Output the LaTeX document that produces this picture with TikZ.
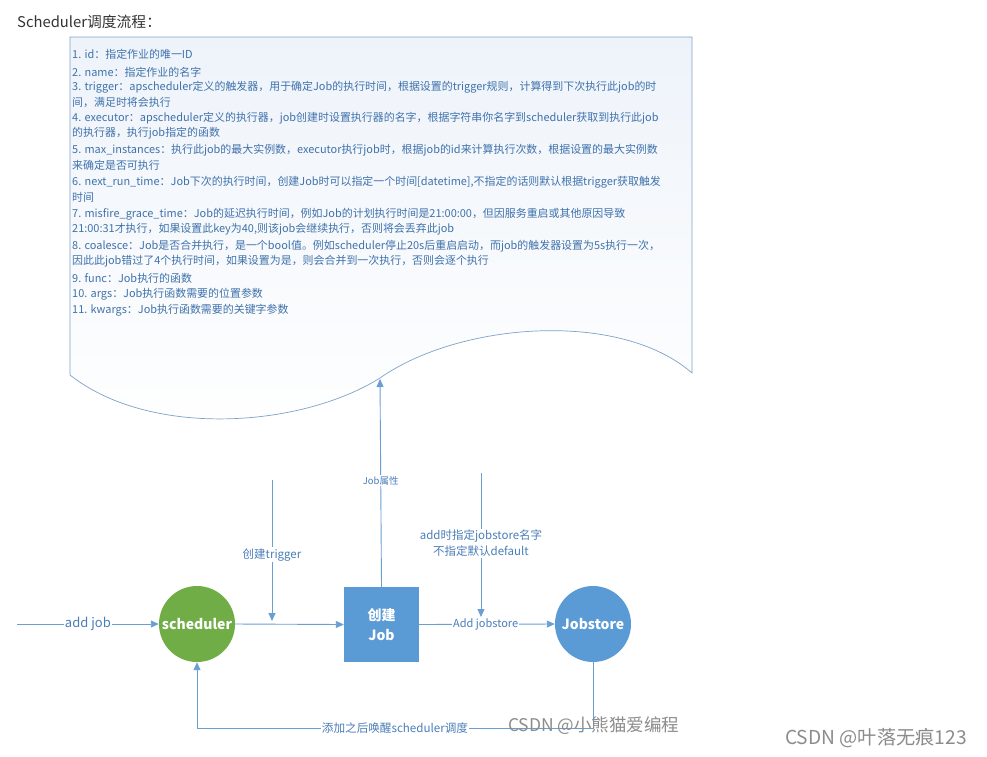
\documentclass[tikz,border=0pt]{standalone}
\usepackage{fontspec}
\setmainfont{Noto Sans CJK SC}
\usetikzlibrary{arrows.meta}
\definecolor{lineblue}{HTML}{6A9FD4}
\definecolor{labblue}{HTML}{4A7EB8}
\definecolor{doctext}{HTML}{3F72AB}
\definecolor{docborder}{HTML}{7FA2C8}
\definecolor{docfill}{HTML}{EEF3FA}
\definecolor{sgreen}{HTML}{70AD47}
\definecolor{sblue}{HTML}{5B9BD5}
\definecolor{wmgray}{HTML}{8C8C8C}
\tikzset{
  conn/.style={draw=lineblue, line width=0.9pt},
  arr/.style={conn, -{Triangle[length=8pt,width=7pt]}},
  lab/.style={fill=white, inner sep=1pt, text=labblue},
  doctxt/.style={anchor=west, inner sep=0pt, text=doctext, font=\fontsize{10.95}{12}\selectfont},
  circnode/.style={circle, minimum size=76pt, inner sep=0pt, text=white, font=\fontsize{14}{16}\selectfont\bfseries},
  boxnode/.style={rectangle, minimum width=75pt, minimum height=75pt, inner sep=0pt, fill=sblue, text=white, align=center, font=\fontsize{14}{20}\selectfont\bfseries}
}
\begin{document}
\begin{tikzpicture}[x=1pt,y=-1pt]
\useasboundingbox[fill=white] (0,0) rectangle (987,756);
% title
\node[anchor=west, inner sep=0pt, text=black!80, font=\fontsize{14.8}{16}\selectfont] (title) at (17,22) {Scheduler调度流程：};
% document shape
\path[draw=docborder, line width=0.7pt, top color=docfill, bottom color=white]
  (70,37) -- (692,37) -- (692,373)
  .. controls (620,310) and (460,322) .. (380,378)
  .. controls (300,428) and (150,438) .. (70,375) -- cycle;
\coordinate (docbot) at (380,379);
\foreach \y/\t in {
 54/{1. id：指定作业的唯一ID},
 72/{2. name：指定作业的名字},
 87/{3. trigger：apscheduler定义的触发器，用于确定Job的执行时间，根据设置的trigger规则，计算得到下次执行此job的时},
 102/{间，满足时将会执行},
 118/{4. executor：apscheduler定义的执行器，job创建时设置执行器的名字，根据字符串你名字到scheduler获取到执行此job},
 133/{的执行器，执行job指定的函数},
 150/{5. max\_instances：执行此job的最大实例数，executor执行job时，根据job的id来计算执行次数，根据设置的最大实例数},
 165/{来确定是否可执行},
 182/{6. next\_run\_time：Job下次的执行时间，创建Job时可以指定一个时间[datetime],不指定的话则默认根据trigger获取触发},
 197/{时间},
 214/{7. misfire\_grace\_time：Job的延迟执行时间，例如Job的计划执行时间是21:00:00，但因服务重启或其他原因导致},
 229/{21:00:31才执行，如果设置此key为40,则该job会继续执行，否则将会丢弃此job},
 246/{8. coalesce：Job是否合并执行，是一个bool值。例如scheduler停止20s后重启启动，而job的触发器设置为5s执行一次，},
 261/{因此此job错过了4个执行时间，如果设置为是，则会合并到一次执行，否则会逐个执行},
 278/{9. func：Job执行的函数},
 294/{10. args：Job执行函数需要的位置参数},
 310/{11. kwargs：Job执行函数需要的关键字参数}}
 {\node[doctxt] at (72,\y) {\t};}
% nodes
\node[circnode, fill=sgreen] (sched) at (197,624) {scheduler};
\node[boxnode] (job) at (381.5,624.5) {创建\\Job};
\node[circnode, fill=sblue] (store) at (593,624) {Jobstore};
\coordinate (start) at (17,624);
\coordinate (trigtop) at (272,480);
\coordinate (trigend) at (272,621);
\coordinate (jstop) at (481,473);
\coordinate (jsend) at (481,617);
\coordinate (retR) at (593,728);
\coordinate (retL) at (197,728);
% connectors
\draw[arr] (start) -- node[lab, font=\fontsize{13}{15}\selectfont] {add job} (sched.west);
\draw[arr] (sched.east) -- (job.west);
\draw[arr] (trigtop) -- node[lab, pos=0.53, font=\fontsize{11.5}{14}\selectfont] {创建trigger} (trigend);
\draw[arr] (job.north) -- node[lab, pos=0.51, font=\fontsize{9.5}{11}\selectfont] {Job属性} (docbot);
\draw[arr] (job.east) -- node[lab, pos=0.49, font=\fontsize{11}{13}\selectfont] {Add jobstore} (store.west);
\draw[arr] (jstop) -- node[lab, pos=0.49, align=center, font=\fontsize{11.5}{16}\selectfont] {add时指定jobstore名字\\不指定默认default} (jsend);
\draw[arr] (store.south) -- (retR) -- node[lab, pos=0.5, font=\fontsize{11.6}{13}\selectfont] {添加之后唤醒scheduler调度} (retL) -- (sched.south);
% watermarks
\node[anchor=west, inner sep=0pt, text=wmgray, font=\fontsize{17.5}{19}\selectfont] (wm1) at (508,726) {CSDN @小熊猫爱编程};
\node[anchor=west, inner sep=0pt, text=wmgray, font=\fontsize{19.2}{21}\selectfont] (wm2) at (785,738) {CSDN @叶落无痕123};
\end{tikzpicture}
\end{document}
